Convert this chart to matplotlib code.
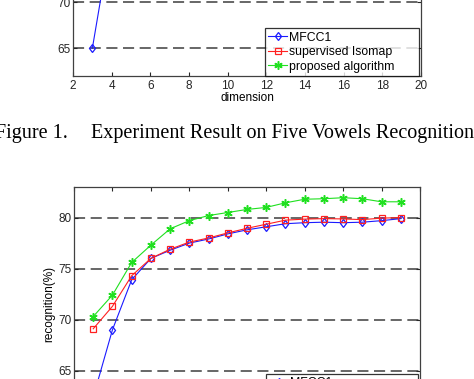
import matplotlib
matplotlib.use("Agg")
import matplotlib.pyplot as plt

# ---------------- data ----------------
dims = list(range(3, 20))

# Figure 1 (only the visible part of MFCC1)
fig1_dims = [3, 4]
fig1_mfcc = [65.0, 77.4]

# Figure 2
mfcc1 = [62.4, 69.0, 73.9, 76.0, 76.8, 77.5, 77.9, 78.4, 78.8, 79.1,
         79.4, 79.5, 79.55, 79.5, 79.55, 79.7, 79.9]
sup_isomap = [69.1, 71.3, 74.3, 76.0, 76.9, 77.6, 78.0, 78.5, 78.95, 79.35,
              79.75, 79.85, 79.9, 79.87, 79.8, 79.95, 80.0]
proposed = [70.3, 72.4, 75.6, 77.3, 78.9, 79.7, 80.2, 80.5, 80.8, 81.0,
            81.45, 81.8, 81.85, 81.95, 81.85, 81.55, 81.55]

series_names = ["MFCC1", "supervised Isomap", "proposed algorithm"]
xticks = list(range(2, 21, 2))
yticks = [60, 65, 70, 75, 80]

# ---------------- style ----------------
plt.rcParams['font.family'] = ['Liberation Sans', 'DejaVu Sans']
plt.rcParams['lines.scale_dashes'] = False

W, H = 474, 379
fig = plt.figure(figsize=(W / 100, H / 100), dpi=100)

BLUE = '#1a1aff'
RED = '#ff2020'
GREEN = '#20e020'
ASTER = (6, 2, 0)
styles = [dict(color=BLUE, marker='d', mfc='none', mec=BLUE, ms=4.5, mew=0.9),
          dict(color=RED, marker='s', mfc='none', mec=RED, ms=4.5, mew=0.9),
          dict(color=GREEN, marker=ASTER, mfc=GREEN, mec=GREEN, ms=6, mew=1.1)]


def px_axes(left, top, right, ymin, ymax, ppu):
    h = (ymax - ymin) * ppu
    bottom_px = top + h
    return fig.add_axes([left / W, 1 - bottom_px / H, (right - left) / W, h / H])


def style_axes(ax, ymin, ymax):
    ax.set_xticks(xticks)
    ax.set_yticks(yticks)
    ax.set_xlim(2, 20)
    ax.set_ylim(ymin, ymax)
    ax.tick_params(direction='in', length=3, width=0.8, top=True, right=True,
                   labelsize=8.5, pad=2, colors='0.15')
    ax.tick_params(axis='x', pad=3)
    for s in ax.spines.values():
        s.set_linewidth(0.9)
        s.set_color('0.25')
    ax.grid(axis='y', color='0.3', linewidth=1.2, linestyle=(0, (8, 4)))
    ax.set_axisbelow(True)


def add_legend(ax, left_px, right_px, ax_left, ax_right):
    x0 = (left_px - ax_left) / (ax_right - ax_left)
    w = (right_px - left_px) / (ax_right - ax_left)
    leg = ax.legend(loc='lower left', bbox_to_anchor=(x0, 0.0, w, 0.3),
                    mode='expand', fontsize=8.8, frameon=True, fancybox=False,
                    borderaxespad=0.0, handlelength=1.5, handletextpad=0.15,
                    labelspacing=0.2, borderpad=0.28, edgecolor='black')
    leg.get_frame().set_linewidth(0.9)


# ---------- top axes (Figure 1, lower part visible) ----------
ax1 = px_axes(73, 76 - 21 * 9.2, 421, 62, 83, 9.2)
style_axes(ax1, 62, 83)
ax1.plot(fig1_dims, fig1_mfcc, lw=0.8, label=series_names[0], **styles[0])
ax1.plot([], [], lw=0.8, label=series_names[1], **styles[1])
ax1.plot([], [], lw=0.8, label=series_names[2], **styles[2])
ax1.set_xlabel('dimension', fontsize=8.5, labelpad=0)
add_legend(ax1, 265, 419, 73, 421)

# caption
serif = ['Liberation Serif', 'DejaVu Serif']
fig.text(68 / W, 1 - 138 / H, 'Figure 1.', ha='right', va='baseline',
         fontsize=14.5, family=serif)
fig.text(91 / W, 1 - 138 / H, 'Experiment Result on Five Vowels Recognition',
         ha='left', va='baseline', fontsize=14.5, family=serif)

# ---------- bottom axes (Figure 2, upper part visible) ----------
ax2 = px_axes(74, 187, 420, 60, 83, 10.2)
style_axes(ax2, 60, 83)
ax2.plot(dims, mfcc1, lw=0.8, label=series_names[0], **styles[0])
ax2.plot(dims, sup_isomap, lw=0.8, label=series_names[1], **styles[1])
ax2.plot(dims, proposed, lw=0.8, label=series_names[2], **styles[2])
ax2.set_xlabel('dimension', fontsize=8.5, labelpad=0)
ax2.set_ylabel('recognition(%)', fontsize=8.5, labelpad=2)
add_legend(ax2, 266, 418, 74, 420)

fig.savefig('out.png', dpi=100)
